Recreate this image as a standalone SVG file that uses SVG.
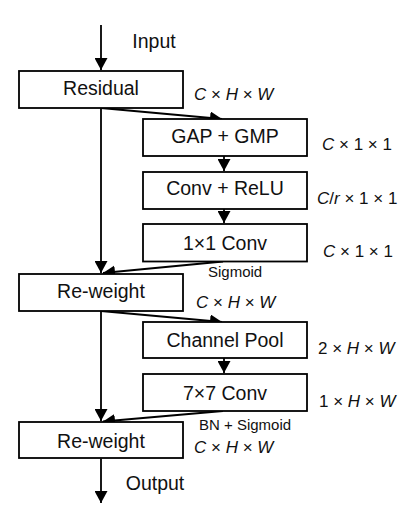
<svg xmlns="http://www.w3.org/2000/svg" width="417" height="513" viewBox="0 0 417 513">
<defs>
<marker id="ah" markerUnits="userSpaceOnUse" markerWidth="13" markerHeight="13" viewBox="0 0 13 13" refX="12" refY="6.5" orient="auto">
<path d="M0,0 L12,6.5 L0,13 Z" fill="#000"/>
</marker>
<style>
.box{fill:#fff;stroke:#000;stroke-width:1.8}
.t{font-family:"Liberation Sans",Arial,sans-serif;font-size:19.5px;fill:#111;text-anchor:middle}
.d{font-family:"Liberation Sans",Arial,sans-serif;font-size:17px;fill:#111}
.s{font-family:"Liberation Sans",Arial,sans-serif;font-size:15px;fill:#111}
.c{fill:none;stroke:#000;stroke-width:1.8;marker-end:url(#ah)}
</style>
</defs>
<rect width="417" height="513" fill="#fff"/>
<g id="connectors">
<path class="c" d="M101,25 L101,70"/>
<path class="c" d="M101,108 L222,119"/>
<path class="c" d="M101,108 L101,273"/>
<path class="c" d="M224,156 L224,171"/>
<path class="c" d="M224,209 L224,223"/>
<path class="c" d="M223,261.5 L103,273"/>
<path class="c" d="M101,311 L222,322"/>
<path class="c" d="M101,311 L101,421"/>
<path class="c" d="M224,358 L224,373"/>
<path class="c" d="M223,411 L103,421.5"/>
<path class="c" d="M101,458.5 L101,503"/>
</g>
<g id="input-label"><text class="t" x="154" y="48">Input</text></g>
<g id="residual">
<rect class="box" x="19" y="71" width="164" height="37"/>
<text class="t" x="101" y="95">Residual</text>
</g>
<text class="d" x="194" y="100"><tspan font-style="italic">C</tspan> × <tspan font-style="italic">H</tspan> × <tspan font-style="italic">W</tspan></text>
<g id="gap-gmp">
<rect class="box" x="143" y="119" width="164" height="37"/>
<text class="t" x="225" y="143">GAP + GMP</text>
</g>
<text class="d" x="322" y="150"><tspan font-style="italic">C</tspan> × 1 × 1</text>
<g id="conv-relu">
<rect class="box" x="143" y="172" width="164" height="37"/>
<text class="t" x="225" y="195">Conv + ReLU</text>
</g>
<text class="d" x="317" y="204"><tspan font-style="italic">C</tspan>/<tspan font-style="italic">r</tspan> × 1 × 1</text>
<g id="conv1x1">
<rect class="box" x="143" y="224" width="164" height="37.5"/>
<text class="t" x="225" y="250">1×1 Conv</text>
</g>
<text class="d" x="323" y="257"><tspan font-style="italic">C</tspan> × 1 × 1</text>
<text class="s" x="208" y="277">Sigmoid</text>
<g id="reweight1">
<rect class="box" x="19" y="274" width="164" height="37"/>
<text class="t" x="101" y="298">Re-weight</text>
</g>
<text class="d" x="196" y="308"><tspan font-style="italic">C</tspan> × <tspan font-style="italic">H</tspan> × <tspan font-style="italic">W</tspan></text>
<g id="channel-pool">
<rect class="box" x="143" y="322" width="164" height="36"/>
<text class="t" x="225" y="347">Channel Pool</text>
</g>
<text class="d" x="318" y="354">2 × <tspan font-style="italic">H</tspan> × <tspan font-style="italic">W</tspan></text>
<g id="conv7x7">
<rect class="box" x="143" y="374" width="164" height="37"/>
<text class="t" x="225" y="400">7×7 Conv</text>
</g>
<text class="d" x="319" y="407">1 × <tspan font-style="italic">H</tspan> × <tspan font-style="italic">W</tspan></text>
<text class="s" x="199" y="430">BN + Sigmoid</text>
<g id="reweight2">
<rect class="box" x="19" y="422" width="164" height="36"/>
<text class="t" x="101" y="448">Re-weight</text>
</g>
<text class="d" x="194" y="453"><tspan font-style="italic">C</tspan> × <tspan font-style="italic">H</tspan> × <tspan font-style="italic">W</tspan></text>
<g id="output-label"><text class="t" x="155" y="490">Output</text></g>
</svg>
